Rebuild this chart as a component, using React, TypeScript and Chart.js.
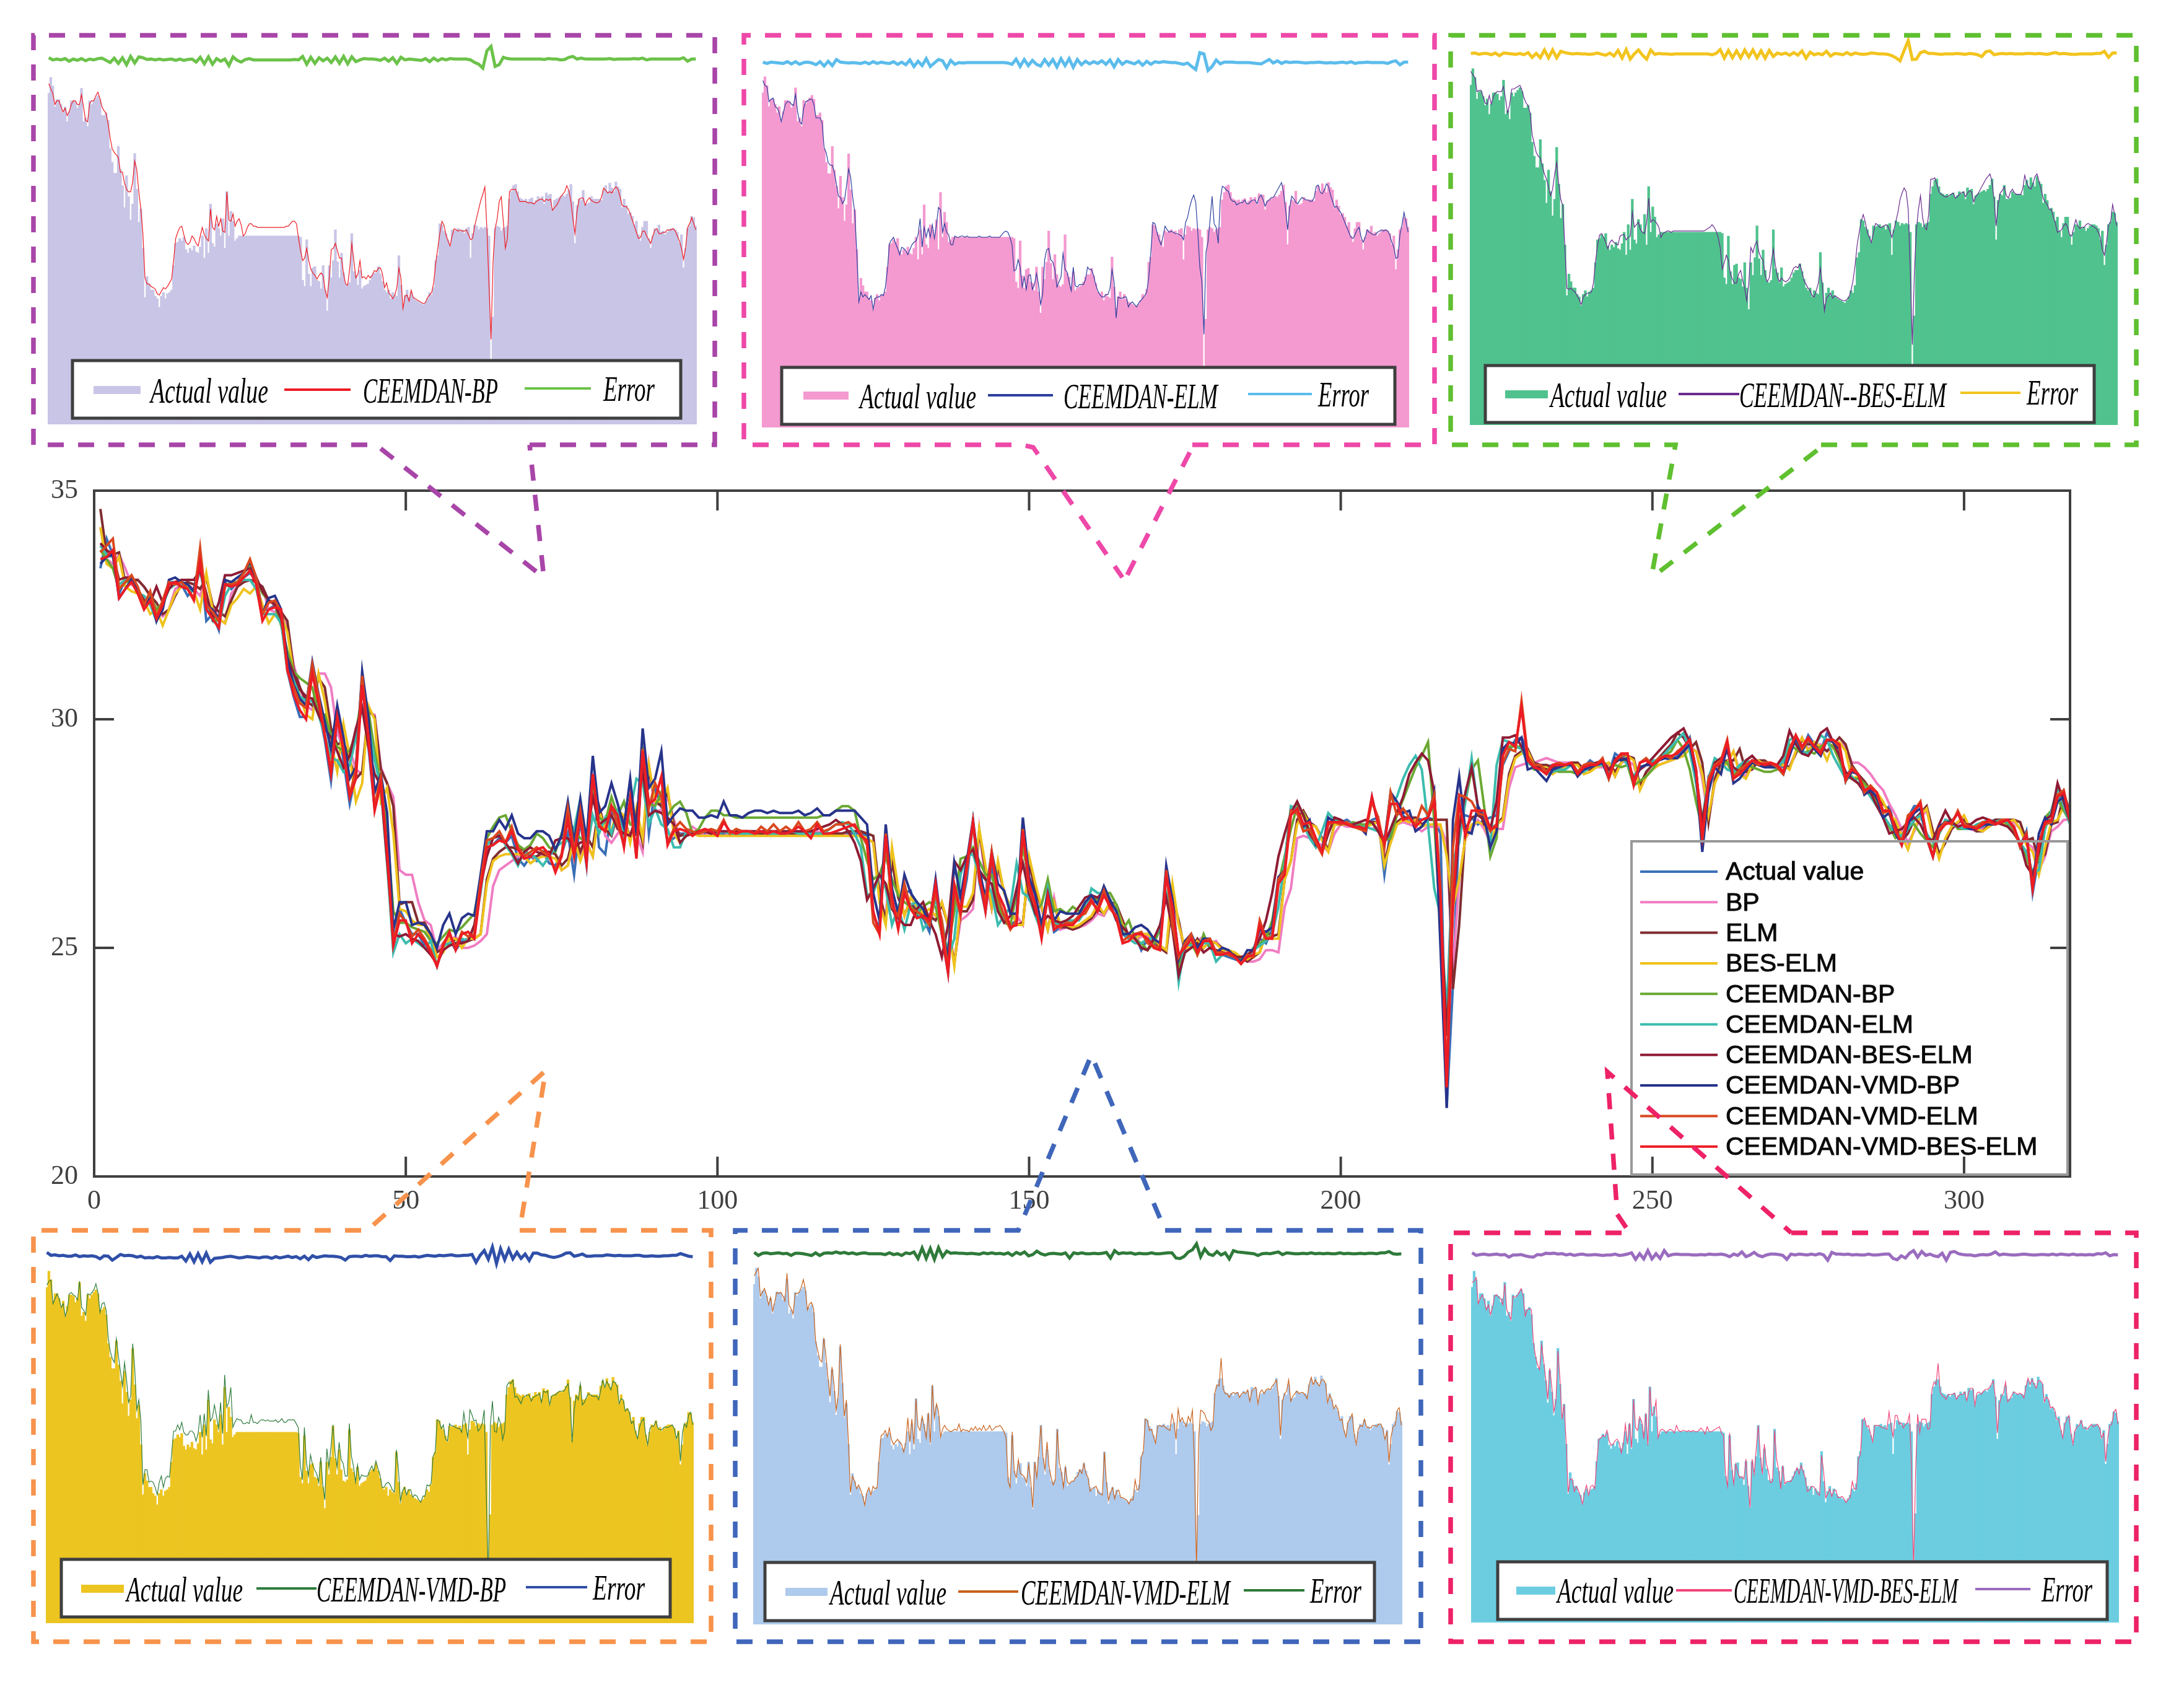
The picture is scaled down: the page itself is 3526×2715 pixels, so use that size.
import { Chart, registerables } from "chart.js";
import { useEffect, useRef } from "react";

Chart.register(...registerables);

const actualValue = [
  33.3,33.95,33.6,32.75,33.05,33.05,32.85,32.5,32.75,32.15,
  32.55,33,33,32.95,32.7,32.85,33.5,32.15,32.3,31.95,
  33,32.85,33,33.1,33.2,33.05,32.4,32.4,32.5,32.2,
  31.05,30.5,30.05,30.05,31.15,30.2,29.55,28.65,29.95,29.1,
  28.15,28.8,30.85,29.4,28.05,28.6,27,25,25.85,25.55,
  25.3,25.3,25.05,24.95,24.6,25.05,25.2,24.95,25.15,25.2,
  25.3,26.3,27.2,27.25,27.4,27.3,27.45,26.95,26.8,27,
  26.9,27.1,26.85,26.8,27.05,27.5,26.6,27.8,26.8,28.8,
  27.2,27.05,28,27.8,27.5,28.2,27,29.3,27.5,28.5,
  28.1,27.3,27.4,27.5,27.5,27.5,27.5,27.5,27.5,27.5,
  27.5,27.5,27.5,27.5,27.5,27.5,27.5,27.5,27.5,27.5,
  27.5,27.5,27.5,27.5,27.5,27.5,27.5,27.5,27.5,27.5,
  27.5,27.5,27.5,27.45,25.7,25.45,27.35,25.95,25.45,26.2,
  26.25,25.7,25.65,25.35,26.3,25.3,24.45,26.3,25.8,26.5,
  27.75,26.45,25.8,26.8,26,25.55,25.5,25.6,27.6,26.05,
  25.9,25.5,26.1,25.35,25.45,25.5,25.55,25.7,25.9,26,
  26,26.25,25.95,25.65,25.3,25.2,25.3,24.95,25.2,25.1,
  25.05,26.7,25.5,24.65,25.1,25.3,25,25.2,25,24.9,
  24.85,24.8,24.75,24.7,24.8,24.95,25.2,25.1,25.4,26.5,
  26.7,28,27.95,27.7,27.6,27.35,27.1,27.75,27.7,27.75,
  27.8,27.7,27.75,27.6,27.8,27.85,26.6,27.6,27.95,27.9,
  27.75,27.85,27.8,27.85,27.8,27.5,21.5,24.2,27.8,27.9,
  27.85,27.7,27.8,27.85,27.9,29,29.3,29.55,29.6,29.3,
  29.05,29,28.95,29,28.9,29,29.05,28.85,28.95,29.1,
  29,29.1,28.8,29.25,29.15,29.2,28.6,28.95,29,29.05,
  29.1,29.15,29.1,29.2,29.35,29.6,28.9,27.2,28.75,29,
  28.95,29.35,28.8,28.8,28.85,29.1,29,29,29,29,
  28.95,29.35,29.55,29.3,29.65,29.45,29.3,29.7,29.5,29.4,
  28.65,29,28.75,28.4,28.45,28.3,27.95,28.1,27.55,27.3,
  27.85,28.1,28.1,27.4,27,27.5,27.8,27.75,27.95,27.65,
  27.7,27.55,27.65,27.75,27.8,27.8,27.75,27.65,27.2,27.55,
  26.2,27,27.8,27.9,28.3,28.25,27.9,
];

const bp = [
  34.2,33.5,33.4,33.6,33.3,32.95,33.05,32.9,32.7,32.4,
  32.25,32.4,32.85,32.95,32.95,32.85,32.7,33.1,32.5,32.2,
  32.1,32.75,32.9,33,33.05,33,32.9,32.4,32.35,32.35,
  32,31.2,30.7,30.3,30.2,31,31,30.7,29.7,29.4,
  29.35,28.9,28.8,30.15,30.1,28.95,28.6,28.3,26.7,26.6,
  26.6,26,25.6,25.5,24.95,25.1,25.15,25.25,25,25,
  25.05,25.15,25.3,26.35,26.7,26.8,26.9,27,27.05,27,
  26.95,27.05,27.1,27.05,26.7,26.8,27.35,27,27.3,27,
  28,27.45,27.3,27.5,27.7,27.45,27.5,27.1,29,28,
  28,28.3,27.8,27.45,27.5,27.65,27.55,27.45,27.55,27.5,
  27.55,27.45,27.5,27.5,27.5,27.5,27.5,27.5,27.5,27.5,
  27.5,27.5,27.5,27.5,27.5,27.55,27.5,27.5,27.5,27.5,
  27.45,27.45,27.45,27.4,27.3,26.1,25.7,27.1,26.3,25.7,
  26.1,25.9,25.7,25.75,25.7,26,25.5,24.7,25.6,25.7,
  25.85,27.6,26.5,25.85,26.7,26.25,25.75,25.7,25.5,26.9,
  26.3,25.85,25.4,26.1,25.4,25.45,25.4,25.45,25.5,25.6,
  25.75,25.7,25.95,25.85,25.6,25.2,25.15,25.25,25.25,25.15,
  25.05,24.95,26.1,25.5,24.95,25.1,25.15,25.25,25.1,25.15,
  24.95,24.9,24.8,24.75,24.7,24.7,24.75,24.95,24.95,24.9,
  25.9,26.3,27.4,27.45,27.4,27.3,27.25,27.1,27.5,27.7,
  27.65,27.65,27.65,27.65,27.6,27.65,26.95,27.3,27.7,27.75,
  27.7,27.65,27.55,27.65,27.65,27.65,27.3,24.5,26.5,27.4,
  27.6,27.8,27.6,27.3,27.6,27.6,28.5,28.95,29,29.05,
  29.05,29.1,29.15,29.1,29.05,29.05,29.05,29,28.95,28.9,
  28.95,28.95,29,28.75,29.05,29.1,29,28.5,28.8,28.9,
  29,29.05,29.1,29.15,29.2,29.4,29.3,28.7,27.8,28.6,
  28.95,29.05,29.3,28.85,28.75,29,29.1,29,29,28.95,
  29,28.95,29.3,29.6,29.35,29.45,29.45,29.3,29.4,29.5,
  29.4,29.05,29.05,28.95,28.8,28.6,28.45,28.15,27.9,27.6,
  27.3,27.55,27.85,28,27.5,27,27.35,27.6,27.7,27.85,
  27.6,27.55,27.6,27.65,27.75,27.75,27.75,27.75,27.6,27.3,
  27.2,26.7,27,27.55,27.65,27.8,27.8,
];

const elm = [
  34.6,33.6,33.6,33.65,33,33.05,33.05,32.9,32.7,32.55,
  32.3,32.4,32.7,32.95,33,32.95,32.85,33.1,32.5,32.35,
  32.25,32.6,32.9,33,33.05,33,32.9,32.6,32.55,32.35,
  32.15,31.1,30.7,30.4,30.3,30.9,30.7,29.8,29.45,29.5,
  29.1,28.7,28.85,30.2,30.05,28.9,28.6,28.1,25.95,26,
  26,25.55,25.55,25.3,24.9,25,25.05,25.2,25.1,25.15,
  25.2,25.3,26.5,26.95,27.1,27.2,27.2,27.15,27.15,27,
  27,27.1,27.1,27.05,26.8,26.95,27.5,27.1,27.45,27.2,
  28.1,27.6,27.45,27.95,27.85,27.4,27.85,27.3,28.9,28.2,
  28.1,28.4,27.7,27.45,27.5,27.5,27.5,27.55,27.5,27.5,
  27.55,27.5,27.5,27.5,27.5,27.5,27.5,27.5,27.5,27.5,
  27.5,27.5,27.5,27.5,27.5,27.5,27.5,27.5,27.5,27.5,
  27.55,27.55,27.55,27.5,27.45,26.2,25.6,26.9,26.1,25.75,
  25.95,25.8,25.65,25.7,25.6,25.95,25.5,24.65,25.8,25.8,
  26.05,27.55,26.7,25.9,26.8,26.2,25.9,25.5,25.55,26.85,
  26.25,25.9,25.4,26,25.45,25.45,25.4,25.45,25.55,25.65,
  25.85,25.75,26,25.95,25.6,25.25,25.2,25.3,25.3,25.2,
  25,24.9,26.1,25.6,24.9,25,25.2,25,25.15,25.1,
  25,24.95,24.85,24.8,24.7,24.8,24.9,25.35,25.25,25.3,
  26.5,26.9,27.8,28,27.75,27.65,27.4,27.15,27.7,27.7,
  27.7,27.65,27.65,27.7,27.75,27.75,26.9,27.35,27.75,27.85,
  27.85,27.85,27.7,27.8,27.8,27.8,27.8,24.1,25.5,27.6,
  27.85,27.9,27.8,27.6,27.7,27.85,28.8,29.2,29.3,29.35,
  29.05,29,29,28.95,28.95,29,29.05,29.05,28.9,28.9,
  29,29,29.05,28.85,29.05,29.2,29.15,28.55,28.85,29,
  29.15,29.3,29.45,29.7,29.6,29.35,29.5,29.05,27.75,28.7,
  29.05,29.1,29.1,29.35,28.85,28.9,29.1,29.1,29,29,
  29,28.95,29.25,29.55,29.45,29.45,29.4,29.3,29.45,29.6,
  29.45,29,28.8,28.65,28.45,28.25,28.15,28,27.7,27.35,
  27.5,27.8,27.95,28.1,27.55,27.05,27.3,27.6,27.75,27.8,
  27.65,27.55,27.55,27.7,27.8,27.8,27.8,27.8,27.75,27.35,
  27.4,26.9,27.05,27.7,27.75,28.4,27.95,
];

const besElm = [
  34.2,33.4,33.3,33.55,32.9,32.8,32.75,32.6,32.3,32.4,
  32.05,32.4,32.75,32.9,32.9,32.8,32.4,33.2,32.4,32.2,
  32.1,32.5,32.65,32.85,32.75,32.9,32.5,32.1,32.3,32.3,
  31.9,31,30.5,30.1,30,31,30.4,29.5,28.85,29.9,
  29.2,28.2,28.6,30.3,30,28.2,28.5,27.5,25.85,25.8,
  25.6,25.5,25.5,25.2,24.8,24.9,25.2,25.2,25,25.2,
  25.2,25.3,26.4,26.9,27,27.05,27.05,27.05,27,26.85,
  26.95,27,27,26.95,26.7,26.8,27.4,26.9,27.3,27,
  28,27.6,27.6,28,27.9,27.3,28.05,27.4,29,28.2,
  28.2,28.5,27.5,27.3,27.45,27.5,27.45,27.45,27.45,27.45,
  27.45,27.45,27.45,27.45,27.45,27.45,27.45,27.45,27.45,27.45,
  27.45,27.45,27.45,27.45,27.45,27.45,27.45,27.45,27.45,27.45,
  27.45,27.45,27.45,27.4,27.3,26,25.5,27.2,26.3,25.7,
  26.1,25.9,25.75,25.85,25.7,26,25.5,24.6,25.9,25.9,
  26.2,27.6,26.8,25.9,26.9,26.2,25.9,25.5,25.5,27,
  26.4,25.9,25.4,26,25.5,25.5,25.45,25.5,25.6,25.7,
  25.95,25.75,26,25.9,25.5,25.2,25.2,25.3,25.3,25.2,
  25.05,24.95,26.4,25.5,25,25,25.15,25,25.15,25.1,
  24.95,24.95,24.9,24.8,24.75,24.85,24.9,25.3,25.2,25.2,
  26.5,26.9,27.7,27.95,27.7,27.65,27.35,27.1,27.7,27.7,
  27.7,27.65,27.65,27.65,27.7,27.75,26.8,27.3,27.7,27.8,
  27.75,27.8,27.65,27.7,27.7,27.7,27,25.9,26.5,27.4,
  27.7,27.75,27.7,27.3,27.7,27.8,28.7,29.15,29.25,29.3,
  29,28.95,28.95,28.8,28.9,28.95,29,29,28.8,28.85,
  28.95,29,29.05,28.75,29.05,29.2,29.1,28.45,28.75,28.9,
  29,29.05,29.1,29.15,29.2,29.35,29.3,28.8,27.9,28.6,
  28.9,29.05,29.3,28.8,28.7,29,29.1,29,28.95,29,
  29,28.9,29.3,29.6,29.3,29.5,29.4,29.1,29.45,29.5,
  29.3,28.7,28.75,28.55,28.5,28.4,28.2,27.9,27.8,27.45,
  27.15,27.6,27.9,28.05,27.4,26.95,27.4,27.65,27.75,27.9,
  27.6,27.6,27.55,27.65,27.75,27.7,27.75,27.8,27.6,27.25,
  27.1,26.6,27.2,27.75,27.8,28.1,27.9,
];

const ceemdanBp = [
  33.7,33.5,33.3,32.85,33,33,32.75,32.55,32.7,32.4,
  32.55,32.85,33,33,32.85,32.85,33.25,32.75,32.2,32.15,
  32.9,33,33,33.2,33.35,33.1,32.75,32.6,32.5,32.05,
  31.5,31.05,30.9,30.8,30.7,30.1,30.1,29.65,29.4,29.3,
  29.3,29.7,30.55,30.2,29.3,28.6,27.6,25.8,25.55,25.55,
  25.45,25.4,25.35,25.15,25.1,25.25,25.4,25.35,25.45,25.6,
  25.75,26.5,27.4,27.65,27.85,27.9,27.55,27.25,27.15,27.25,
  27.5,27.4,27.2,27.1,27.5,27.85,27.55,27.4,27.3,28.6,
  27.85,27.75,28.3,27.9,28.2,27.7,27.65,29.3,28.15,28.1,
  28.4,27.9,28.1,28.2,27.95,27.5,27.6,27.85,28,28,
  27.9,27.9,27.85,27.85,27.85,27.85,27.85,27.85,27.85,27.85,
  27.85,27.85,27.85,27.85,27.85,27.85,27.9,27.9,28,28.1,
  28.1,28,27.4,26.9,26.5,26.6,27,26.5,26.15,26,
  25.9,25.75,25.9,26,25.9,25.3,25,25.8,26.95,27,
  27.2,26.9,26.6,26.6,25.95,25.55,25.5,26.2,27.2,26.5,
  25.8,25.95,26.5,25.8,25.85,25.75,25.9,25.8,25.9,26.1,
  26.05,26.2,26.2,25.95,25.4,25.6,25.2,25.1,24.95,25.1,
  25.4,26.2,25.8,24.55,25.05,25.1,24.85,25.3,25,24.95,
  24.9,24.85,24.8,24.75,24.8,25,25.1,25.2,25.6,26.4,
  27,27.6,28.1,27.95,27.55,27.3,27.1,27.5,27.8,27.75,
  27.7,27.75,27.7,27.7,27.75,27.55,27.35,27.4,27.9,28.25,
  28.6,28.95,29.2,29.5,27.75,25.5,23.3,26.5,27.8,28.2,
  28.9,29.1,28.1,27,27.4,29.3,29.4,29.4,29.4,29.15,
  28.9,28.9,28.9,28.9,28.85,28.85,28.85,28.8,28.9,28.95,
  29,29,28.9,29,28.95,29,28.55,28.65,28.75,28.9,
  29.1,29.2,29.3,29.55,29.35,28.9,28.2,27.6,28.5,29,
  29.05,29.05,28.75,28.95,29.05,28.95,28.9,28.85,28.85,28.9,
  29.1,29.45,29.35,29.25,29.3,29.25,29.4,29.5,29.4,29.1,
  28.75,28.7,28.7,28.6,28.4,28.15,27.9,27.65,27.4,27.45,
  27.7,27.7,27.5,27.35,27.2,27.5,27.75,27.8,27.6,27.6,
  27.65,27.65,27.75,27.75,27.75,27.8,27.7,27.5,27.3,27,
  26.55,27,27.85,28,28.25,28,27.75,
];

const ceemdanElm = [
  33.8,33.6,33.55,32.95,33.05,33.1,32.75,32.7,32.5,32.15,
  32.5,32.85,32.95,32.95,32.85,32.8,33.25,32.55,32.15,32.05,
  32.7,32.95,33,33.05,33.05,32.85,32.3,32.3,32.3,32.1,
  31.1,30.9,30.5,30.4,30.4,30.1,29.65,29.15,29.1,28.85,
  29,29.6,30.25,29.9,29.1,28.5,26.85,24.9,25.3,25.1,
  25.2,25.1,25,25.15,24.6,25.05,25.1,25.1,25.2,25.15,
  25.5,26.2,27.25,27.4,27.5,27.25,27.05,26.8,27.1,27.05,
  26.95,26.8,27,27.2,27.3,27.35,27.6,28.25,27.1,27.9,
  27.5,27.85,27.5,28,27.45,28,28.7,28.6,27.7,28.05,
  27.7,27.6,27.2,27.2,27.55,27.5,27.5,27.55,27.55,27.5,
  27.55,27.5,27.5,27.5,27.5,27.5,27.55,27.5,27.5,27.5,
  27.5,27.55,27.5,27.5,27.5,27.5,27.5,27.6,27.7,27.75,
  27.7,27.5,27.2,26.15,26.2,26.6,26.3,25.5,25.9,25.4,
  25.95,26,25.4,25.6,26.05,25.6,24.8,25.2,26.6,27,
  27.05,26.6,26.5,26.2,25.5,25.7,25.9,26.85,26.2,26.1,
  25.7,25.35,26.3,25.55,25.5,25.6,25.6,25.6,25.8,26.3,
  26.2,26.2,25.95,25.6,25.35,25.2,25.1,25.1,25.2,25.2,
  25.45,26.2,25.7,24.25,25.1,25.05,25.05,25.1,25.1,24.7,
  24.85,24.9,24.8,24.7,24.85,24.95,25.05,25.15,25.3,25.9,
  26.9,28.1,28.05,27.7,27.4,27.2,27.55,27.95,27.8,27.7,
  27.75,27.7,27.65,27.65,27.6,27.55,27.4,28.1,28.3,28.7,
  29,29.2,28.9,27.7,26.3,25.7,23.6,26.9,27.3,28.2,
  29.15,28.05,27.9,27.25,29,29.55,29.5,29.4,29.35,29.05,
  28.95,28.95,28.8,28.85,28.9,28.9,29,28.85,28.85,28.95,
  29,29,28.85,29.1,29.2,29,28.75,28.95,29,29.1,
  29.1,29.25,29.4,29.55,29.7,29.3,28.6,27.8,28.7,29.15,
  29.05,28.9,28.85,29,29.1,29.05,29,29,28.95,28.95,
  29.1,29.55,29.6,29.3,29.25,29.4,29.65,29.55,29.2,28.95,
  28.7,28.75,28.6,28.5,28.3,28.1,27.9,27.7,27.5,27.45,
  27.6,27.8,27.9,27.5,27.3,27.5,27.8,27.7,27.65,27.6,
  27.6,27.7,27.75,27.8,27.75,27.8,27.75,27.6,27.3,27.1,
  26.65,26.7,27.6,28,28.5,28.1,27.7,
];

const ceemdanBesElm = [
  33.85,33.7,33.6,33.05,33.1,33.1,32.85,32.6,32.55,32.9,
  32.55,32.85,33,33.05,33.05,33.05,33.25,32.75,32.2,32.55,
  33.15,33.15,33.2,33.25,33.3,33.1,32.8,32.6,32.5,32.2,
  31.35,31,30.65,30.5,30.45,30.1,29.8,29.6,29.3,28.95,
  29.2,29.8,30.25,29.4,28.8,28.55,26.9,25.3,25.25,25.3,
  25.2,25.15,25,24.85,24.65,24.95,25.05,25.1,25.1,25.15,
  25.5,26.35,27,27.4,27.45,27.3,27.1,26.85,27.1,27.2,
  27.1,27.05,27,27.35,27.4,27.4,27.2,27.3,27.35,28.3,
  27.7,27.8,27.9,27.6,27.5,27.45,27.9,28.85,27.9,28,
  27.95,27.85,27.7,27.3,27.45,27.5,27.55,27.55,27.5,27.55,
  27.55,27.55,27.55,27.55,27.55,27.55,27.55,27.55,27.55,27.55,
  27.55,27.55,27.55,27.55,27.55,27.6,27.65,27.7,27.8,27.7,
  27.55,27.3,26.9,26.05,26.3,26.6,26.4,25.85,25.65,25.5,
  25.5,25.85,26,25.6,25.3,24.8,25.5,26.9,26.7,27,
  27.15,26.7,26.5,26.4,25.8,25.55,25.7,26.3,26.85,26.2,
  25.75,25.55,25.7,25.6,25.55,25.6,25.7,25.9,26.1,26.15,
  26.1,26.25,25.95,25.6,25.45,25.3,25.2,25,24.95,25.2,
  25.5,26.1,25.4,24.4,24.9,25,25.1,24.9,25,24.95,
  24.9,24.85,24.8,24.8,24.85,24.95,25.2,25.6,26.2,27,
  27.5,27.95,28.2,27.9,27.5,27.3,27.1,27.5,27.85,27.8,
  27.7,27.7,27.75,27.8,27.75,27.55,27.3,27.6,27.95,28.3,
  28.8,29.05,29.25,29.1,28.4,26,23.07,25.9,27.6,28.4,
  28.95,28.1,27.7,27.6,28.2,29.6,29.6,29.65,29.4,29.1,
  29,28.95,28.9,28.9,28.95,29,29.05,28.85,28.9,29,
  29.05,29.1,28.9,29.05,29.15,29.1,28.7,28.9,29,29.15,
  29.3,29.45,29.6,29.7,29.8,29.5,28.8,27.75,28.6,29.05,
  29.15,29.3,28.95,28.85,29.1,29.2,29.05,29,29,29,
  29.2,29.75,29.45,29.25,29.2,29.4,29.7,29.8,29.5,29.2,
  28.85,28.7,28.6,28.4,28.4,28.1,27.85,27.5,27.55,27.6,
  27.75,27.85,27.7,27.4,27.35,27.7,28,27.75,27.65,27.7,
  27.7,27.8,27.85,27.8,27.75,27.7,27.65,27.5,27.3,26.8,
  26.6,27.1,27.8,27.9,28.6,28.2,27.75,
];

const vmdBp = [
  33.4,33.55,33.6,32.65,32.85,33.05,32.85,32.5,32.65,32.15,
  32.4,33.05,33.1,33,32.95,32.8,33.55,32.5,32.4,32.2,
  33.05,33,33.1,33.2,33.45,33.1,32.3,32.65,32.7,32.4,
  31.3,30.75,30.45,30.3,31.25,30.55,29.95,29.35,30.3,29.6,
  28.7,28.95,31.05,30.05,28.4,28.8,27.95,25.4,26,26,
  25.5,25.55,25.5,25.3,25,25.5,25.75,25.3,25.65,25.75,
  25.7,26.6,27.55,27.55,27.8,27.6,27.9,27.5,27.4,27.4,
  27.55,27.55,27.45,27.15,27.45,28.2,27.3,28.25,27.35,29.2,
  27.95,28.1,28.6,28.15,27.65,28.7,27.45,29.8,28.5,28.7,
  29.3,27.7,27.9,28.05,28,28,27.85,27.85,27.9,27.85,
  28.2,27.9,27.9,27.85,27.95,28,28,27.95,28,27.95,
  27.95,27.95,28,27.9,27.95,28.05,27.9,27.9,28,28,
  28,28,27.85,27.7,26.2,25.6,27.7,26.3,25.75,26.6,
  26.2,26,25.85,25.5,26.5,25.4,24.8,26.85,26.1,26.9,
  27.8,26.7,26.1,27.1,26.4,26.25,25.75,25.75,27.85,26.55,
  26.15,25.5,26.2,25.6,25.8,25.75,25.75,25.75,26,26.15,
  25.95,26.35,26.05,25.8,25.3,25.3,25.45,25.5,25.4,25.2,
  25.1,26.8,26.05,24.75,25.15,25.3,25,25.2,25.2,24.9,
  25,24.95,24.8,24.7,24.95,24.95,25.4,25.35,25.45,26.55,
  26.7,28,27.95,27.65,27.8,27.25,27.15,27.85,27.75,27.75,
  27.7,27.65,27.65,27.5,28.3,27.7,27.3,28.4,28.2,27.95,
  28,27.55,27.65,27.85,28.4,25,21.5,27.8,28.75,27.55,
  27.5,28.1,27.85,27.2,27.55,29.35,29.5,29.45,29.6,28.9,
  28.95,28.8,28.65,28.9,28.95,29,29,28.75,28.9,28.95,
  29,29.05,28.7,29.15,29.1,29.15,28.6,28.95,29,29,
  29.1,29.15,29.15,29.15,29.3,29.45,28.8,27.1,28.4,28.95,
  28.8,29.45,28.6,28.7,28.9,29.05,29,28.95,28.95,28.95,
  28.8,29.2,29.6,29.3,29.55,29.35,29.2,29.55,29.5,29.35,
  28.65,28.85,28.8,28.35,28.45,28.3,27.85,27.95,27.5,27.25,
  27.7,27.95,28.05,27.4,27,27.65,27.75,27.75,27.95,27.65,
  27.6,27.6,27.7,27.7,27.7,27.75,27.8,27.65,27.25,27.5,
  26.35,27.5,27.85,27.7,28.2,28.3,27.8,
];

const vmdElm = [
  33.65,33.8,33.95,32.85,33,33.15,32.9,32.5,32.8,32.25,
  32.6,33,32.95,33,32.85,32.65,33.75,32.5,32.35,32.15,
  32.95,32.95,33,33.2,33.5,33.1,32.3,32.55,32.6,32.35,
  31.05,30.7,30.35,30.25,31.2,30.5,29.65,28.9,30.05,29.35,
  28.35,28.9,30.95,29.6,28.1,28.75,27.1,25.1,25.75,25.55,
  25.25,25.4,25.2,24.95,24.6,25.1,25.3,25,25.35,25.25,
  25.3,26.45,27.35,27.4,27.55,27.3,27.65,27.2,27,27.1,
  27.2,27.1,27,26.7,27.05,28.05,27.1,28,27,28.8,
  27.7,27.55,28.1,27.7,27.25,28.25,27.05,29.35,28.05,28.6,
  28.3,27.3,27.6,27.75,27.6,27.55,27.5,27.55,27.6,27.55,
  27.8,27.5,27.6,27.55,27.55,27.5,27.65,27.55,27.7,27.55,
  27.65,27.55,27.75,27.55,27.6,27.75,27.55,27.6,27.7,27.7,
  27.75,27.65,27.5,27.25,25.55,25.3,27.5,25.9,25.7,26.4,
  25.85,25.8,25.7,25.5,26.2,25.6,24.5,26.3,25.7,26.7,
  27.75,26.5,26,27.1,26.1,25.7,25.4,25.6,27.6,26.3,
  25.9,25.3,26.1,25.5,25.45,25.55,25.55,25.7,25.75,26,
  25.85,26.25,25.85,25.7,25.15,25.25,25.3,25.35,25.1,25.05,
  25,26.7,25.5,24.8,25.1,25.3,24.85,25.15,25.2,24.9,
  24.9,24.85,24.8,24.65,24.85,24.8,25.6,25.2,25.25,26.5,
  26.7,28,27.95,27.55,27.6,27.3,27.05,27.7,27.75,27.7,
  27.75,27.65,27.6,27.55,28.2,27.85,27.2,28.4,27.9,28.05,
  27.85,27.7,28.1,27.9,28.35,26.3,22,27.2,28.35,28.3,
  28.2,27.95,27.9,27.55,27.7,29.05,29.35,29.3,30.4,29.2,
  29,29,28.85,29,29.05,29,29.05,28.85,29,29.05,
  29,29.15,28.7,29.1,29.2,29.25,28.6,29.05,29.15,29,
  29.15,29.2,29.15,29.3,29.4,29.55,28.9,27.35,28.7,29,
  29.1,29.55,28.7,28.9,29,29.1,29,29.05,29.05,28.95,
  28.8,29.35,29.65,29.35,29.55,29.4,29.3,29.55,29.55,29.4,
  28.65,28.95,28.8,28.4,28.55,28.4,27.95,28,27.55,27.3,
  27.9,28,28.2,27.4,27,27.6,27.75,27.7,28,27.7,
  27.65,27.65,27.75,27.75,27.7,27.8,27.8,27.6,27.2,27.5,
  26.3,27.3,27.7,27.75,28.35,28.45,27.75,
];

const vmdBesElm = [
  33.5,33.55,33.7,32.65,32.85,33,32.75,32.4,32.6,32.2,
  32.5,32.95,33,32.9,32.85,32.6,33.45,32.4,32.2,32,
  32.95,32.9,32.95,33.1,33.25,32.95,32.15,32.4,32.45,32.4,
  31.1,30.55,30.2,30,31,30.35,29.65,28.8,30.05,29.3,
  28.3,28.7,30.75,29.6,28,28.6,27.1,25.05,25.6,25.6,
  25.1,25.3,25.15,24.9,24.6,25.05,25.35,24.95,25.3,25.35,
  25.2,26.3,27.2,27.25,27.35,27.3,27.55,27.15,26.95,27,
  27.15,27.2,27.05,26.65,27,27.8,27,27.85,26.85,28.8,
  27.65,27.55,28.1,27.9,27.2,28.25,26.95,29.3,28.15,28.25,
  28.75,27.25,27.55,27.6,27.55,27.45,27.55,27.6,27.55,27.45,
  27.75,27.55,27.5,27.55,27.55,27.5,27.55,27.5,27.55,27.5,
  27.5,27.55,27.65,27.55,27.4,27.7,27.5,27.5,27.55,27.6,
  27.65,27.7,27.45,27.35,25.8,25.3,27.45,26.1,25.4,26.2,
  25.85,25.65,25.7,25.6,26.4,25.3,24.45,26.4,25.8,26.8,
  27.75,26.6,25.8,27,26.2,25.9,25.45,25.5,27.55,26.4,
  25.95,25.2,26.15,25.4,25.5,25.5,25.5,25.65,25.85,26.05,
  25.8,26.15,25.9,25.65,25.1,25.15,25.3,25.3,25.2,25,
  24.95,26.55,25.9,24.85,25,25.2,24.9,25.15,25.15,24.85,
  24.85,24.9,24.8,24.65,24.8,24.85,25.5,25.2,25.2,26.4,
  26.6,27.9,28.05,27.7,27.75,27.4,27.1,27.75,27.75,27.75,
  27.7,27.65,27.65,27.6,28.3,27.7,27.3,28.15,28.15,27.8,
  27.85,27.65,27.8,27.85,28.2,26.1,21.95,25.9,28.2,27.45,
  28,28,28,27.6,27.65,29.2,29.5,29.4,30.25,29.1,
  28.95,28.9,28.8,29,29,29,29.05,28.8,28.95,29,
  29,29.1,28.75,29.1,29.25,29.25,28.55,29.05,29.1,29,
  29.1,29.2,29.2,29.25,29.4,29.55,28.9,27.45,28.6,28.95,
  29.05,29.5,28.7,28.8,28.95,29.1,29.05,29,29.05,29,
  28.85,29.3,29.65,29.4,29.6,29.4,29.25,29.55,29.55,29.45,
  28.7,28.9,28.8,28.45,28.5,28.4,28,28,27.6,27.25,
  27.8,28,28.15,27.45,27,27.55,27.7,27.75,27.95,27.65,
  27.65,27.6,27.7,27.8,27.7,27.75,27.8,27.65,27.25,27.45,
  26.3,27.25,27.75,27.8,28.3,28.4,27.8,
];

// error curves, read at every second sample
const errorBp = [
  .4,-.1,.1,-.1,.2,-.4,.1,-.2,.2,-.3,
  .1,-.1,.2,.3,-.2,-.7,.3,-.9,.4,-1.2,
  .7,-.8,.6,.4,0,.1,-.1,.1,-.1,0,
  .1,-.2,.1,-.2,0,.1,-.6,.5,-1,.6,
  -1.1,.2,-.4,.1,-1.4,.6,-.2,-.6,0,.2,
  -.1,-.1,-.1,-.1,-.1,-.1,-.1,-.1,-.1,-.1,
  0,-.1,.7,-1.1,.5,-.9,.4,-.3,.3,-.7,
  .6,-.9,.7,-1,.6,-.5,-.1,.2,.1,.1,
  0,-.2,.3,-.4,.4,-.9,.5,-.1,.1,0,
  -.1,-.2,.2,-.5,.3,-.3,.2,-.1,.2,.1,
  .1,.1,.1,-.1,-.7,-1.1,-2,2,3,-1.6,
  -1.2,.5,.2,.1,.1,.1,.1,.1,.1,.1,
  .1,0,.2,.1,.1,-.1,0,.5,.7,.1,
  .3,.1,.1,.1,.1,.1,.1,.2,0,.1,
  .1,.1,.1,.2,.1,.3,-.1,.1,.1,.1,
  .1,.1,.1,.1,.1,.4,-.4,.1,.1,
];
const errorElm = [
  .1,-.2,.1,0,-.1,-.2,.2,-.3,.2,-.4,
  0,.1,-.1,-.5,.2,-.8,.3,-.7,.7,.1,
  0,-.1,0,-.1,-.2,.1,-.3,.2,-.2,.1,
  -.1,-.2,.2,-.4,.1,-.5,.6,-.9,.3,-.7,
  .9,-.9,-.1,.7,.4,-1.2,.5,-.4,0,-.1,
  0,0,0,0,0,0,0,0,0,0,
  -.1,-.4,.8,-.9,.7,-.7,.5,-.4,-.8,.7,
  -.6,.7,-1,.9,-.7,.9,-1.1,.7,-.5,.3,
  -.3,.2,-.2,.4,-.4,.6,-1,.7,-.4,.3,
  0,-.3,.3,-.6,.3,-.4,.2,0,.2,.1,
  0,0,-.2,-.4,-.1,-.9,-1.6,2.3,2,-1.8,
  -.9,.6,-.3,.1,.1,.1,0,0,0,0,
  -.1,-.2,-.3,.2,.7,-.1,.4,-.2,.2,0,
  .1,.1,0,-.1,0,0,.1,0,-.1,0,
  -.1,0,.1,-.1,.2,-.2,0,0,.1,0,
  0,0,0,-.2,.2,.4,-.5,.1,.1,
];
const errorBesElm = [
  .1,.2,-.1,.1,.1,-.2,.2,-.4,.2,.1,
  0,-.1,.1,-.2,.3,-.8,.1,-.9,.9,-.9,
  .9,-.9,.6,.3,.1,0,.1,0,0,-.1,
  0,.2,-.1,-.3,.2,-.5,.8,-1,1,-1.2,
  0,.9,-.3,-1.2,.9,-.1,.1,0,0,-.1,
  0,0,0,0,0,0,0,0,0,-.2,
  .1,1,-1,.8,-.9,.7,-.9,.9,-.7,.9,
  -.9,.7,-1,.8,-.6,.2,-.1,.2,-.3,.3,
  -.3,.7,-1,.4,-.2,.1,-.2,.6,-.5,.1,
  0,-.2,.3,-.2,.2,0,-.1,0,.2,.1,
  0,0,-.1,-.4,-.9,-1.6,.8,3.1,-1.3,-1.2,
  .3,.6,.1,.1,0,-.1,0,0,0,.1,
  0,-.1,.1,0,-.2,-.6,.5,.7,-.2,0,
  .1,0,.1,0,0,0,.1,.1,0,.1,
  0,-.1,.1,.3,0,.1,0,-.1,-.1,0,
  0,0,0,.1,.1,.6,-.8,.2,.2,
];
const errorVmdBp = [
  .8,.1,.2,0,.1,-.1,-.1,.2,-.2,0,
  -.1,0,-.2,-.7,0,-.1,-1,-.4,.3,0,
  .1,0,-.3,-.1,-.5,-.4,-.5,-.2,-.5,-.5,
  -.4,-.5,-.5,-.1,-1.2,.4,-1.4,.5,-1.4,.6,
  -1.5,-.6,-.5,-.4,-.2,-.1,-.3,-.5,-.4,-.2,
  -.3,-.4,-.5,-.3,-.3,-.6,-.2,-.5,-.3,-.1,
  -.4,-.2,-.7,-.1,-.9,0,-.4,-.2,0,-.1,
  -.1,-.2,-.4,-1,-.2,-.1,-.1,-.2,.1,-.1,
  0,0,-.2,-.2,-1.1,0,-.1,-.1,-.2,-.2,
  -.1,-.3,-.1,.1,0,-.1,.1,0,.1,.2,
  0,0,.1,.1,.3,-1.5,.1,1.2,-.8,2,
  -1.8,1.6,-.9,1.5,-.7,.8,-.6,.4,-1.1,.6,
  .6,.2,.1,-.2,-.4,-.2,.1,.6,.7,-.1,
  .1,.4,-.1,-.1,0,0,0,.2,.1,0,
  .1,0,0,0,.1,.1,-.1,-.1,0,-.1,
  -.1,0,0,.1,.1,.5,.2,-.1,-.2,
];
const errorVmdElm = [
  .2,-.5,0,.1,-.1,0,.1,-.1,0,-.5,
  0,0,-.1,-.3,-.5,.1,-.5,0,.1,0,
  .3,0,.2,-.1,.1,-.2,0,.1,-.1,-.1,
  -.1,-.1,-.3,.1,-.3,-.1,-.5,.1,-.1,.3,
  -1.2,1.2,-1.2,1.1,-1.4,1.3,-.8,.5,0,.1,
  0,0,-.1,0,-.1,-.2,.1,-.1,.1,-.1,
  0,-.2,.1,-.5,.2,-.2,.3,-.6,-.3,.5,
  -.1,-.4,-.1,0,-.1,-.2,.1,-1.1,.1,-.1,
  .1,-.1,-.1,0,-.1,0,.2,-1.1,.6,-.1,
  .1,0,.1,-.2,0,-.1,-.1,.1,-.1,-.1,
  0,.1,.1,-1.1,-1.2,-.7,.3,.8,2.2,-.8,
  1,-.2,-.5,.4,-.4,.1,-1.3,.6,.3,.2,
  .1,0,-.1,-.5,-.1,0,-.1,.1,.3,-.3,
  .1,0,-.1,-.1,0,-.1,.1,-.1,0,-.1,
  0,-.1,-.1,.1,-.1,0,-.1,-.1,0,-.1,
  0,0,-.1,.1,.1,.4,-.1,-.2,-.1,
];
const errorVmdBesElm = [
  .4,-.2,0,.1,-.1,0,.1,-.1,0,-.6,
  -.1,-.1,0,-.3,-.5,-.6,0,-.1,.3,.2,
  .3,.1,.2,-.1,.1,-.2,0,.1,-.1,-.1,
  0,-.1,-.2,-.1,-.1,.1,-.2,-.1,.1,.4,
  -1.1,.2,-1,.9,-1,.2,-.9,.9,-.3,0,
  .1,0,0,0,-.1,-.1,0,-.1,.1,0,
  0,.1,-.1,-.5,.1,-.2,.6,-.5,-.1,.5,
  -.2,-.5,-.1,.1,.1,0,-.2,-1.1,.1,-.1,
  .1,0,-.1,.1,-.1,.2,-.1,-1.3,.5,.1,
  .1,0,.1,-.1,0,-.1,-.1,.1,-.1,-.1,
  0,.1,.1,-.9,-1.2,-.3,-.8,.3,.9,-.6,
  .7,-.2,.1,-.3,-.5,.3,-1.3,.5,.7,.2,
  0,-.1,-.1,-.3,-.1,0,-.1,.1,.6,-.1,
  .1,0,-.1,-.1,0,.1,0,-.1,-.1,0,
  0,-.1,.1,-.1,.1,0,-.1,.1,-.1,0,
  -.1,0,-.1,.2,.1,.4,-.3,0,-.1,
];

const sampleLabels = actualValue.map((_, i) => String(i + 1));
const yTicks = [20, 25, 30, 35];

const mainSeries = [
  { label: "Actual value", values: actualValue, color: "#3a6fb7" },
  { label: "BP", values: bp, color: "#f07cc2" },
  { label: "ELM", values: elm, color: "#802c30" },
  { label: "BES-ELM", values: besElm, color: "#eec21c" },
  { label: "CEEMDAN-BP", values: ceemdanBp, color: "#6aa832" },
  { label: "CEEMDAN-ELM", values: ceemdanElm, color: "#3bbcae" },
  { label: "CEEMDAN-BES-ELM", values: ceemdanBesElm, color: "#8f1b34" },
  { label: "CEEMDAN-VMD-BP", values: vmdBp, color: "#27348b" },
  { label: "CEEMDAN-VMD-ELM", values: vmdElm, color: "#d9481f" },
  { label: "CEEMDAN-VMD-BES-ELM", values: vmdBesElm, color: "#ed1c24" },
];

const PAGE_W = 3526;
const PAGE_H = 2715;
const AXIS_COLOR = "#3f3f3f";
const ACTUAL_MAX = 33.95;
const FLAT_LEVEL = 27.5;
const ERR_PX_PER_UNIT = 7;

// everything below is page pixels
const insets = [
  {
    name: "CEEMDAN-BP", pred: ceemdanBp, error: errorBp,
    bar: "#c9c5e6", predColor: "#ed1c24", errColor: "#6cc24a",
    left: 77, right: 1125, base: 685, yFlat: 381, yMax: 125, errY: 96,
    box: [117, 582, 1099, 675], patch: [151, 623, 227, 636], actual: [243, 433, 650],
    line2: [459, 566, 629], text2: [586, 804, 650], line3: [847, 954, 627], text3: [974, 1057, 647],
  },
  {
    name: "CEEMDAN-ELM", pred: ceemdanElm, error: errorElm,
    bar: "#f49ad0", predColor: "#2b3f9e", errColor: "#5bbcec",
    left: 1230, right: 2275, base: 690, yFlat: 383, yMax: 124, errY: 101,
    box: [1262, 593, 2252, 685], patch: [1297, 632, 1370, 645], actual: [1388, 1576, 659],
    line2: [1595, 1700, 638], text2: [1717, 1966, 659], line3: [2015, 2118, 636], text3: [2128, 2210, 656],
  },
  {
    name: "CEEMDAN--BES-ELM", pred: ceemdanBesElm, error: errorBesElm,
    bar: "#50c28e", predColor: "#6a2a8f", errColor: "#f2c41f",
    left: 2373, right: 3419, base: 686, yFlat: 375, yMax: 111, errY: 87,
    box: [2398, 590, 3381, 682], patch: [2430, 630, 2499, 643], actual: [2503, 2691, 657],
    line2: [2710, 2808, 636], text2: [2808, 3142, 657], line3: [3165, 3262, 634], text3: [3272, 3355, 653],
  },
  {
    name: "CEEMDAN-VMD-BP", pred: vmdBp, error: errorVmdBp,
    bar: "#ecc521", predColor: "#2f7d3e", errColor: "#2f4fa8",
    left: 74, right: 1120, base: 2620, yFlat: 2312, yMax: 2052, errY: 2027,
    box: [99, 2517, 1082, 2610], patch: [131, 2558, 200, 2571], actual: [204, 392, 2585],
    line2: [414, 511, 2564], text2: [511, 817, 2585], line3: [849, 948, 2562], text3: [957, 1041, 2582],
  },
  {
    name: "CEEMDAN-VMD-ELM", pred: vmdElm, error: errorVmdElm,
    bar: "#aecaec", predColor: "#c8621c", errColor: "#2f7a3a",
    left: 1216, right: 2264, base: 2622, yFlat: 2311, yMax: 2047, errY: 2023,
    box: [1235, 2522, 2219, 2616], patch: [1268, 2563, 1336, 2576], actual: [1340, 1528, 2590],
    line2: [1547, 1644, 2569], text2: [1648, 1986, 2590], line3: [2008, 2106, 2567], text3: [2115, 2198, 2587],
  },
  {
    name: "CEEMDAN-VMD-BES-ELM", pred: vmdBesElm, error: errorVmdBesElm,
    bar: "#6ccde0", predColor: "#f0457a", errColor: "#9a6cbe",
    left: 2375, right: 3421, base: 2619, yFlat: 2311, yMax: 2052, errY: 2025,
    box: [2418, 2521, 3402, 2614], patch: [2448, 2561, 2511, 2574], actual: [2514, 2702, 2587],
    line2: [2706, 2796, 2567], text2: [2799, 3161, 2587], line3: [3189, 3278, 2565], text3: [3296, 3378, 2585],
  },
];

const frames = [
  { color: "#a845a8", d: "M855 718 L1154 718 L1154 57 L54 57 L54 718 L601 718 L612 722 L870 926 M877 922 L855 718" },
  { color: "#ee48a8", d: "M1925 718 L2316 718 L2316 57 L1201 57 L1201 718 L1649 718 L1668 722 L1812 932 M1820 928 L1925 722" },
  { color: "#5fc030", d: "M2940 718 L3449 718 L3449 57 L2342 57 L2342 718 L2705 718 L2667 927 M2680 922 L2940 722" },
  { color: "#f7934c", d: "M839 1986 L1148 1986 L1148 2650 L54 2650 L54 1986 L593 1986 L881 1728 L839 1986" },
  { color: "#3f66ba", d: "M1881 1986 L2294 1986 L2294 2650 L1187 2650 L1187 1986 L1644 1986 L1762 1703 L1881 1986" },
  { color: "#ee2266", d: "M2892 1990 L3449 1990 L3449 2650 L2342 2650 L2342 1990 L2631 1990 L2611 1960 L2595 1730 L2892 1990" },
];

const frameTicks = {
  id: "frameTicks",
  afterDatasetsDraw(chart: any) {
    const { ctx, chartArea: a, scales } = chart;
    ctx.save();
    ctx.strokeStyle = AXIS_COLOR;
    ctx.lineWidth = 4;
    ctx.strokeRect(a.left, a.top, a.right - a.left, a.bottom - a.top);
    ctx.beginPath();
    scales.x.ticks.forEach((t: any) => {
      const x = scales.x.getPixelForValue(t.value);
      ctx.moveTo(x, a.top);
      ctx.lineTo(x, a.top + 32);
      ctx.moveTo(x, a.bottom);
      ctx.lineTo(x, a.bottom - 32);
    });
    scales.y.ticks.forEach((t: any) => {
      const y = scales.y.getPixelForValue(t.value);
      ctx.moveTo(a.left, y);
      ctx.lineTo(a.left + 32, y);
      ctx.moveTo(a.right, y);
      ctx.lineTo(a.right - 32, y);
    });
    ctx.stroke();
    ctx.restore();
  },
};

const mainLegend = {
  id: "mainLegend",
  afterDatasetsDraw(chart: any) {
    const { ctx } = chart;
    ctx.save();
    ctx.strokeStyle = "#999999";
    ctx.lineWidth = 4;
    ctx.strokeRect(2634, 1358, 704, 538);
    ctx.font = '41px "Liberation Sans"';
    ctx.textBaseline = "middle";
    chart.data.datasets.forEach((ds: any, i: number) => {
      const y = 1407 + i * 49.3;
      ctx.strokeStyle = ds.borderColor;
      ctx.lineWidth = 4;
      ctx.beginPath();
      ctx.moveTo(2648, y);
      ctx.lineTo(2773, y);
      ctx.stroke();
      ctx.fillStyle = "#0a0a0a";
      ctx.strokeStyle = "#0a0a0a";
      ctx.lineWidth = 1;
      ctx.fillText(ds.label, 2786, y + 2);
      ctx.strokeText(ds.label, 2786, y + 2);
    });
    ctx.restore();
  },
};

// legend text in the insets is a condensed italic serif, so squeeze it to the measured width
function fitText(ctx: CanvasRenderingContext2D, text: string, x0: number, x1: number, base: number) {
  const w = ctx.measureText(text).width;
  ctx.save();
  ctx.translate(x0, base);
  ctx.scale((x1 - x0) / w, 1);
  ctx.fillText(text, 0, 0);
  ctx.restore();
}

function insetLegend(cfg: any, canvasTop: number) {
  return {
    id: "insetLegend",
    afterDraw(chart: any) {
      const { ctx } = chart;
      ctx.save();
      ctx.translate(-cfg.left, -canvasTop);
      const [bx0, by0, bx1, by1] = cfg.box;
      ctx.fillStyle = "#ffffff";
      ctx.fillRect(bx0, by0, bx1 - bx0, by1 - by0);
      ctx.strokeStyle = AXIS_COLOR;
      ctx.lineWidth = 5;
      ctx.strokeRect(bx0, by0, bx1 - bx0, by1 - by0);
      const [px0, py0, px1, py1] = cfg.patch;
      ctx.fillStyle = cfg.bar;
      ctx.fillRect(px0, py0, px1 - px0, py1 - py0);
      ctx.lineWidth = 4;
      ctx.strokeStyle = cfg.predColor;
      ctx.beginPath();
      ctx.moveTo(cfg.line2[0], cfg.line2[2]);
      ctx.lineTo(cfg.line2[1], cfg.line2[2]);
      ctx.stroke();
      ctx.strokeStyle = cfg.errColor;
      ctx.beginPath();
      ctx.moveTo(cfg.line3[0], cfg.line3[2]);
      ctx.lineTo(cfg.line3[1], cfg.line3[2]);
      ctx.stroke();
      ctx.fillStyle = "#000000";
      ctx.font = 'italic 56px "Liberation Serif"';
      ctx.textBaseline = "alphabetic";
      fitText(ctx, "Actual value", cfg.actual[0], cfg.actual[1], cfg.actual[2]);
      fitText(ctx, cfg.name, cfg.text2[0], cfg.text2[1], cfg.text2[2]);
      fitText(ctx, "Error", cfg.text3[0], cfg.text3[1], cfg.text3[2]);
      ctx.restore();
    },
  };
}

const MainChart = () => {
  const canvasRef = useRef<HTMLCanvasElement | null>(null);

  useEffect(() => {
    if (!canvasRef.current) return;
    const count = mainSeries.length;
    const chart = new Chart(canvasRef.current, {
      type: "line",
      data: {
        datasets: mainSeries.map((s, i) => ({
          label: s.label,
          data: s.values.map((v, k) => ({ x: k + 1, y: v })),
          borderColor: s.color,
          borderWidth: 4,
          pointRadius: 0,
          tension: 0,
          order: count - i,
        })),
      },
      options: {
        responsive: false,
        devicePixelRatio: 1,
        animation: false,
        events: [],
        layout: { autoPadding: false, padding: { top: 792, right: 184, left: 0, bottom: 0 } },
        scales: {
          x: {
            type: "linear",
            min: 0,
            max: 317,
            grid: { display: false, drawTicks: false },
            border: { display: false },
            afterFit: (s: any) => { s.height = PAGE_H - 1899; },
            ticks: {
              stepSize: 50,
              includeBounds: false,
              maxRotation: 0,
              padding: 14,
              color: AXIS_COLOR,
              font: { family: "Liberation Serif", size: 44 },
            },
          },
          y: {
            min: 20,
            max: 35,
            grid: { display: false, drawTicks: false },
            border: { display: false },
            afterFit: (s: any) => { s.width = 152; },
            afterBuildTicks: (s: any) => { s.ticks = yTicks.map((v) => ({ value: v })); },
            ticks: {
              padding: 26,
              color: AXIS_COLOR,
              font: { family: "Liberation Serif", size: 44 },
            },
          },
        },
        plugins: { legend: { display: false }, tooltip: { enabled: false } },
      },
      plugins: [frameTicks, mainLegend],
    } as any);
    return () => chart.destroy();
  }, []);

  return (
    <canvas
      ref={canvasRef}
      width={PAGE_W}
      height={PAGE_H}
      style={{ position: "absolute", left: 0, top: 0 }}
    />
  );
};

const InsetChart = ({ cfg }: { cfg: any }) => {
  const canvasRef = useRef<HTMLCanvasElement | null>(null);
  const canvasTop = cfg.errY - 30;
  const width = cfg.right - cfg.left;
  const height = cfg.base - canvasTop;

  useEffect(() => {
    if (!canvasRef.current) return;
    const pxPerUnit = (cfg.yFlat - cfg.yMax) / (ACTUAL_MAX - FLAT_LEVEL);
    const errorFull = sampleLabels.map((_, i) => (i % 2 === 0 ? cfg.error[i / 2] : null));
    const chart = new Chart(canvasRef.current, {
      type: "bar",
      data: {
        labels: sampleLabels,
        datasets: [
          {
            type: "line",
            data: errorFull,
            yAxisID: "y1",
            spanGaps: true,
            borderColor: cfg.errColor,
            borderWidth: 5,
            pointRadius: 0,
            tension: 0,
            order: 0,
          },
          {
            type: "line",
            data: cfg.pred,
            yAxisID: "y",
            borderColor: cfg.predColor,
            borderWidth: 1.2,
            pointRadius: 0,
            tension: 0,
            order: 0,
          },
          {
            type: "bar",
            data: actualValue,
            yAxisID: "y",
            backgroundColor: cfg.bar,
            borderWidth: 0,
            inflateAmount: 0.5,
            barPercentage: 1,
            categoryPercentage: 1,
            order: 1,
          },
        ],
      },
      options: {
        responsive: false,
        devicePixelRatio: 1,
        animation: false,
        events: [],
        layout: { autoPadding: false, padding: 0 },
        scales: {
          x: { display: false },
          y: {
            display: false,
            beginAtZero: false,
            min: FLAT_LEVEL - (cfg.base - cfg.yFlat) / pxPerUnit,
            max: FLAT_LEVEL + (cfg.yFlat - canvasTop) / pxPerUnit,
          },
          y1: {
            display: false,
            min: -(cfg.base - cfg.errY) / ERR_PX_PER_UNIT,
            max: (cfg.errY - canvasTop) / ERR_PX_PER_UNIT,
          },
        },
        plugins: { legend: { display: false }, tooltip: { enabled: false } },
      },
      plugins: [insetLegend(cfg, canvasTop)],
    } as any);
    return () => chart.destroy();
  }, []);

  return (
    <canvas
      ref={canvasRef}
      width={width}
      height={height}
      style={{ position: "absolute", left: cfg.left, top: canvasTop }}
    />
  );
};

const App = () => (
  <div
    style={{
      position: "absolute",
      left: 0,
      top: 0,
      width: PAGE_W,
      height: PAGE_H,
      background: "#ffffff",
      overflow: "hidden",
    }}
  >
    <MainChart />
    {insets.map((cfg) => (
      <InsetChart key={cfg.name} cfg={cfg} />
    ))}
    <svg
      width={PAGE_W}
      height={PAGE_H}
      style={{ position: "absolute", left: 0, top: 0, pointerEvents: "none" }}
    >
      {frames.map((f) => (
        <path
          key={f.color}
          d={f.d}
          fill="none"
          stroke={f.color}
          strokeWidth={7.5}
          strokeDasharray="26 23"
        />
      ))}
    </svg>
  </div>
);

export default App;
